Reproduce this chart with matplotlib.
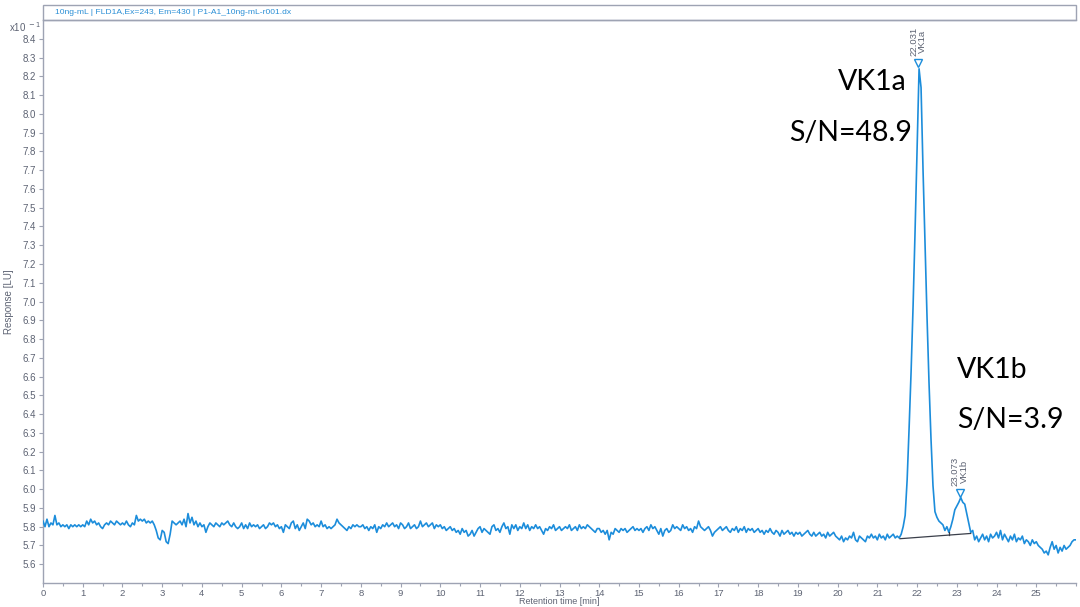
import numpy as np
import matplotlib
matplotlib.use("Agg")
import matplotlib.pyplot as plt
from matplotlib.patches import Rectangle
from matplotlib.ticker import MultipleLocator, FormatStrFormatter

# ---- data (response in units of x10^-1 LU), sampled every 0.05 min ----
t_start, t_step = 0.0, 0.05
resp = [
    # 0
    5.83,5.80,5.84,5.80,5.82,5.81,5.86,5.81,5.82,5.80,5.81,5.80,5.81,5.79,5.81,5.80,5.81,5.80,5.81,5.80,
    # 1
    5.81,5.80,5.83,5.81,5.84,5.82,5.83,5.81,5.82,5.80,5.79,5.81,5.82,5.81,5.83,5.82,5.81,5.83,5.82,5.81,
    # 2
    5.82,5.81,5.83,5.81,5.80,5.82,5.81,5.86,5.83,5.84,5.83,5.84,5.82,5.83,5.82,5.83,5.81,5.78,5.74,5.73,
    # 3
    5.78,5.77,5.72,5.71,5.76,5.83,5.82,5.81,5.82,5.83,5.81,5.84,5.80,5.87,5.82,5.85,5.81,5.83,5.80,5.82,
    # 4
    5.80,5.81,5.77,5.80,5.82,5.81,5.80,5.82,5.81,5.80,5.82,5.81,5.82,5.83,5.81,5.80,5.82,5.80,5.79,5.80,
    # 5
    5.82,5.79,5.81,5.79,5.82,5.80,5.81,5.80,5.81,5.79,5.80,5.81,5.79,5.80,5.82,5.81,5.82,5.80,5.81,5.79,
    # 6
    5.80,5.77,5.81,5.80,5.79,5.82,5.83,5.79,5.81,5.78,5.80,5.82,5.79,5.84,5.83,5.81,5.82,5.80,5.81,5.80,
    # 7
    5.83,5.80,5.81,5.79,5.80,5.79,5.80,5.81,5.84,5.82,5.81,5.80,5.79,5.78,5.80,5.79,5.81,5.80,5.81,5.80,
    # 8
    5.80,5.81,5.79,5.80,5.78,5.80,5.79,5.81,5.77,5.80,5.79,5.81,5.80,5.82,5.80,5.81,5.82,5.80,5.81,5.79,
    # 9
    5.82,5.81,5.79,5.80,5.82,5.79,5.80,5.81,5.79,5.80,5.83,5.80,5.81,5.82,5.80,5.81,5.82,5.79,5.81,5.80,
    # 10
    5.81,5.79,5.80,5.78,5.79,5.80,5.78,5.79,5.77,5.78,5.76,5.79,5.77,5.78,5.75,5.76,5.78,5.75,5.77,5.79,
    # 11
    5.80,5.77,5.79,5.78,5.77,5.76,5.80,5.81,5.78,5.79,5.77,5.80,5.82,5.79,5.80,5.76,5.81,5.79,5.81,5.78,
    # 12
    5.80,5.79,5.82,5.79,5.81,5.78,5.80,5.79,5.81,5.79,5.80,5.78,5.76,5.79,5.78,5.80,5.79,5.81,5.78,5.79,
    # 13
    5.80,5.78,5.79,5.80,5.79,5.81,5.78,5.79,5.80,5.78,5.81,5.79,5.80,5.79,5.81,5.80,5.79,5.78,5.77,5.79,
    # 14
    5.79,5.77,5.78,5.76,5.78,5.73,5.77,5.76,5.79,5.78,5.77,5.79,5.78,5.79,5.77,5.78,5.79,5.80,5.78,5.79,
    # 15
    5.78,5.79,5.77,5.79,5.80,5.78,5.81,5.79,5.80,5.78,5.76,5.79,5.75,5.78,5.79,5.77,5.78,5.81,5.79,5.80,
    # 16
    5.79,5.78,5.81,5.79,5.80,5.78,5.79,5.77,5.80,5.79,5.83,5.80,5.79,5.78,5.79,5.80,5.78,5.75,5.77,5.78,
    # 17
    5.79,5.80,5.78,5.79,5.80,5.78,5.77,5.79,5.78,5.80,5.77,5.79,5.78,5.80,5.77,5.79,5.78,5.79,5.77,5.78,
    # 18
    5.79,5.77,5.78,5.76,5.78,5.77,5.79,5.77,5.76,5.78,5.77,5.75,5.78,5.76,5.77,5.78,5.76,5.77,5.75,5.77,
    # 19
    5.76,5.77,5.75,5.76,5.77,5.78,5.76,5.75,5.77,5.75,5.76,5.77,5.75,5.76,5.74,5.77,5.75,5.76,5.77,5.75,
    # 20
    5.74,5.73,5.75,5.72,5.74,5.73,5.75,5.74,5.77,5.73,5.72,5.75,5.74,5.73,5.72,5.75,5.74,5.76,5.74,5.75,
    # 21
    5.73,5.76,5.74,5.75,5.73,5.76,5.74,5.75,5.76,5.74,5.75,5.74,5.76,5.80,5.86,6.05,6.33,6.63,6.98,7.38,
    # 22
    7.82,8.24,8.14,7.70,7.30,6.92,6.57,6.27,6.02,5.88,5.85,5.83,5.82,5.81,5.78,5.80,5.77,5.80,5.84,5.89,
    # 23
    5.91,5.93,5.955,5.93,5.92,5.87,5.82,5.77,5.78,5.73,5.75,5.72,5.74,5.76,5.73,5.75,5.72,5.76,5.74,5.75,
    # 24
    5.77,5.74,5.78,5.73,5.76,5.74,5.72,5.75,5.73,5.76,5.72,5.74,5.73,5.75,5.71,5.73,5.72,5.70,5.73,5.71,
    # 25
    5.72,5.70,5.69,5.68,5.66,5.67,5.65,5.69,5.72,5.68,5.70,5.66,5.69,5.67,5.70,5.68,5.69,5.70,5.72,5.73,
    # 26
    5.73,
]
peak_names = ["VK1a", "VK1b"]
peak_rt = [22.031, 23.073]
peak_top = [8.255, 5.965]
base_start = [21.57, 5.736]
base_end = [23.35, 5.764]
valley_rt = 22.80
sn_labels = ["S/N=48.9", "S/N=3.9"]
title = "10ng-mL | FLD1A,Ex=243, Em=430 | P1-A1_10ng-mL-r001.dx"
x_ticks = list(range(0, 26))

time = t_start + t_step * np.arange(len(resp))
resp = np.array(resp)

LINE = "#1c8ddb"
AX = "#9ea3b3"
TXT = "#5d6373"
plt.rcParams['font.family'] = ['Liberation Sans', 'DejaVu Sans']

fig = plt.figure(figsize=(10.8, 6.07), dpi=100)
W, H = 1080, 607
ax = fig.add_axes([43 / W, 1 - 583 / H, (1076 - 43) / W, (583 - 20) / H])

ax.plot(time, resp, color=LINE, lw=1.2, zorder=3)

# integration baseline and drop line
ax.plot([base_start[0], base_end[0]], [base_start[1], base_end[1]],
        color="#3a3f4a", lw=0.9, zorder=4)
vb = base_start[1] + (base_end[1] - base_start[1]) * (valley_rt - base_start[0]) / (base_end[0] - base_start[0])
vt = np.interp(valley_rt, time, resp)
ax.plot([valley_rt, valley_rt], [vb, vt], color="#3a3f4a", lw=0.9, zorder=4)

# peak markers + labels
for name, rt, top in zip(peak_names, peak_rt, peak_top):
    ax.plot([rt], [top + 0.015], marker="v", ms=6, mfc="white", mec=LINE, mew=1.0,
            zorder=5, ls="none")
    ax.annotate(f"{rt:.3f}\n{name}", xy=(rt, top + 0.015), xytext=(0, 5),
                textcoords="offset points", rotation=90, ha="center", va="bottom",
                fontsize=6.8, color=TXT, linespacing=0.95)

ax.set_xlim(0, 26)
ax.set_ylim(5.5, 8.5)
ax.set_xticks(x_ticks)
ax.xaxis.set_minor_locator(MultipleLocator(0.5))
ax.yaxis.set_major_formatter(FormatStrFormatter("%.1f"))
ax.set_yticks([v / 10 for v in range(56, 85)])
ax.tick_params(axis="both", which="both", direction="out", colors=AX,
               labelcolor=TXT, labelsize=7, length=3, width=0.8, pad=2)
ax.tick_params(axis="x", which="major", pad=1, labelsize=6.8)
ax.tick_params(axis="both", which="minor", length=2)
for s in ["left", "bottom", "top"]:
    ax.spines[s].set_color(AX)
    ax.spines[s].set_linewidth(1.0)
ax.spines["right"].set_visible(False)

ax.set_ylabel("Response [LU]", fontsize=7, color=TXT, labelpad=6)
fig.text((43 + 1076) / 2 / W, 1 - 602 / H, "Retention time [min]", fontsize=6.5,
         color=TXT, ha="center", va="center")

# title band
fig.patches.append(Rectangle((43 / W, 1 - 20 / H), (1076 - 43) / W, 15 / H,
                             transform=fig.transFigure, fill=False,
                             edgecolor=AX, lw=1.0))
fig.text(55 / W, 1 - 12.5 / H, title, fontsize=6.1, color="#2a8fd6", va="center", ha="left")
fig.text(41 / W, 1 - 27 / H, r"x10$^{\ -1}$", fontsize=7, color=TXT, ha="right", va="center")

# big annotations
big = dict(fontsize=20.5, color="black", family=["Lato", "DejaVu Sans"], va="baseline", ha="left")
fig.text(838 / W, 1 - 90 / H, peak_names[0], **big)
fig.text(789 / W, 1 - 141 / H, sn_labels[0], **big)
fig.text(957 / W, 1 - 378 / H, peak_names[1], **big)
fig.text(957 / W, 1 - 428 / H, sn_labels[1], **big)

fig.savefig("out.png", dpi=100)
